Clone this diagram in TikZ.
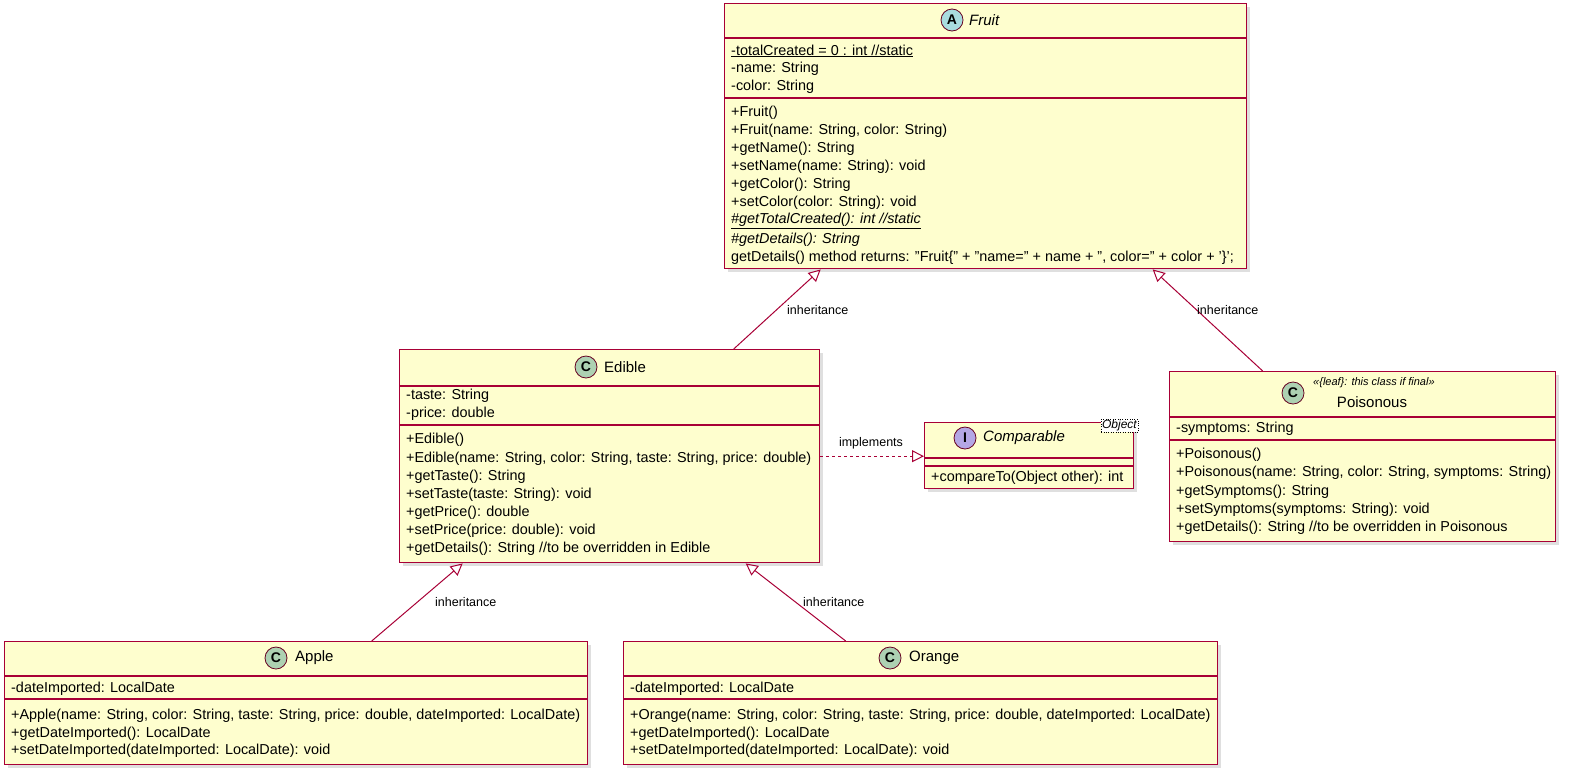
\documentclass[tikz,border=0pt]{standalone}
\usepackage{fontspec}
\setmainfont{Liberation Sans}
\usetikzlibrary{arrows.meta,shadows}
\definecolor{umlfill}{HTML}{FEFECE}
\definecolor{umlline}{HTML}{A80036}
\definecolor{circC}{HTML}{ADD1B2}
\definecolor{circA}{HTML}{A9DCDF}
\definecolor{circI}{HTML}{B4A7E5}
\newcommand{\dq}{\symbol{34}}
\newcommand{\sq}{\symbol{39}}
\tikzset{
  cls/.style={draw=umlline, line width=1.4pt, fill=umlfill, anchor=north west, inner sep=0,
    drop shadow={opacity=0.25, shadow xshift=3pt, shadow yshift=-3pt}},
  sep/.style={draw=umlline, line width=1.1pt},
  mem/.style={anchor=west, inner sep=0, font=\fontsize{14.4}{16}\selectfont},
  title/.style={inner sep=0, font=\fontsize{15}{17}\selectfont},
  circ/.style={circle, draw=umlline!60!black, line width=0.8pt, minimum size=22pt, inner sep=0, font=\bfseries\fontsize{14}{14}\selectfont},
  inh/.style={draw=umlline, line width=1pt, -{Triangle[open, length=12pt, width=12pt]}},
  impl/.style={inh, dashed},
  lbl/.style={inner sep=0, font=\fontsize{12.5}{14}\selectfont}
}
\begin{document}
\begin{tikzpicture}[x=1pt,y=-1pt]
\useasboundingbox (0,0) rectangle (1570,769);
% ---------- Fruit ----------
\node[cls, minimum width=522pt, minimum height=265pt] (fruit) at (724,3) {};
\draw[sep] (724,38) -- (1246,38);
\draw[sep] (724,98) -- (1246,98);
\node[circ, fill=circA] (fa) at (952,20) {A};
\node[title, anchor=west] (fn) at (969,20) {\itshape Fruit};
\node[mem] (f1) at (731,51) {\underline{-totalCreated = 0 : int //static}};
\node[mem] (f2) at (731,69) {-name: String};
\node[mem] (f3) at (731,87) {-color: String};
\node[mem] (f4) at (731,113) {+Fruit()};
\node[mem] (f5) at (731,131) {+Fruit(name: String, color: String)};
\node[mem] (f6) at (731,149) {+getName(): String};
\node[mem] (f7) at (731,167) {+setName(name: String): void};
\node[mem] (f8) at (731,185) {+getColor(): String};
\node[mem] (f9) at (731,203) {+setColor(color: String): void};
\node[mem] (f10) at (731,221) {\itshape\underline{\#getTotalCreated(): int //static}};
\node[mem] (f11) at (731,240) {\itshape \#getDetails(): String};
\node[mem] (f12) at (731,258) {getDetails() method returns: \dq Fruit\{\dq{} + \dq name=\dq{} + name + \dq, color=\dq{} + color + \sq\}\sq;};
% ---------- Edible ----------
\node[cls, minimum width=420pt, minimum height=213pt] (edible) at (399,349) {};
\draw[sep] (399,386) -- (819,386);
\draw[sep] (399,425) -- (819,425);
\node[circ, fill=circC] (ec) at (586,367) {C};
\node[title, anchor=west] (en) at (604,367) {Edible};
\node[mem] (e1) at (406,396) {-taste: String};
\node[mem] (e2) at (406,414) {-price: double};
\node[mem] (e3) at (406,440) {+Edible()};
\node[mem] (e4) at (406,459) {+Edible(name: String, color: String, taste: String, price: double)};
\node[mem] (e5) at (406,477) {+getTaste(): String};
\node[mem] (e6) at (406,495) {+setTaste(taste: String): void};
\node[mem] (e7) at (406,513) {+getPrice(): double};
\node[mem] (e8) at (406,531) {+setPrice(price: double): void};
\node[mem] (e9) at (406,549) {+getDetails(): String //to be overridden in Edible};
% ---------- Comparable ----------
\node[cls, minimum width=209pt, minimum height=66pt] (comp) at (924,422) {};
\draw[sep] (924,458) -- (1133,458);
\draw[sep] (924,466) -- (1133,466);
\node[circ, fill=circI] (ci) at (965,438) {I};
\node[title, anchor=west] (cn) at (983,438) {\itshape Comparable};
\node[draw=black, dotted, fill=white, inner sep=1pt, font=\itshape\fontsize{12}{13}\selectfont, anchor=north east] (cobj) at (1138,419) {Object};
\node[mem] (c1) at (931,478) {+compareTo(Object other): int};
% ---------- Poisonous ----------
\node[cls, minimum width=386pt, minimum height=170pt] (pois) at (1169,371) {};
\draw[sep] (1169,417) -- (1555,417);
\draw[sep] (1169,440) -- (1555,440);
\node[circ, fill=circC] (pc) at (1293,393) {C};
\node[lbl, anchor=west, font=\itshape\fontsize{11}{12}\selectfont] (ps) at (1313,383) {«\{leaf\}: this class if final»};
\node[title] (pn) at (1372,402) {Poisonous};
\node[mem] (p1) at (1176,429) {-symptoms: String};
\node[mem] (p2) at (1176,455) {+Poisonous()};
\node[mem] (p3) at (1176,473) {+Poisonous(name: String, color: String, symptoms: String)};
\node[mem] (p4) at (1176,492) {+getSymptoms(): String};
\node[mem] (p5) at (1176,510) {+setSymptoms(symptoms: String): void};
\node[mem] (p6) at (1176,528) {+getDetails(): String //to be overridden in Poisonous};
% ---------- Apple ----------
\node[cls, minimum width=583pt, minimum height=123pt] (apple) at (4,641) {};
\draw[sep] (4,676) -- (587,676);
\draw[sep] (4,699) -- (587,699);
\node[circ, fill=circC] (ac) at (276,658) {C};
\node[title, anchor=west] (an) at (295,658) {Apple};
\node[mem] (a1) at (11,689) {-dateImported: LocalDate};
\node[mem] (a2) at (11,716) {+Apple(name: String, color: String, taste: String, price: double, dateImported: LocalDate)};
\node[mem] (a3) at (11,734) {+getDateImported(): LocalDate};
\node[mem] (a4) at (11,751) {+setDateImported(dateImported: LocalDate): void};
% ---------- Orange ----------
\node[cls, minimum width=594pt, minimum height=123pt] (orange) at (623,641) {};
\draw[sep] (623,676) -- (1217,676);
\draw[sep] (623,699) -- (1217,699);
\node[circ, fill=circC] (oc) at (890,658) {C};
\node[title, anchor=west] (on) at (909,658) {Orange};
\node[mem] (o1) at (630,689) {-dateImported: LocalDate};
\node[mem] (o2) at (630,716) {+Orange(name: String, color: String, taste: String, price: double, dateImported: LocalDate)};
\node[mem] (o3) at (630,734) {+getDateImported(): LocalDate};
\node[mem] (o4) at (630,751) {+setDateImported(dateImported: LocalDate): void};
% ---------- Connectors ----------
\draw[inh] ([xshift=124pt]edible.north) -- ([xshift=-165pt]fruit.south);
\node[lbl, anchor=west] (l1) at (787,310) {inheritance};
\draw[inh] ([xshift=-100pt]pois.north) -- ([xshift=167pt]fruit.south);
\node[lbl, anchor=west] (l2) at (1197,310) {inheritance};
\draw[inh] ([xshift=75.5pt]apple.north) -- ([xshift=-147pt]edible.south);
\node[lbl, anchor=west] (l3) at (435,602) {inheritance};
\draw[inh] ([xshift=-75pt]orange.north) -- ([xshift=136pt]edible.south);
\node[lbl, anchor=west] (l4) at (803,602) {inheritance};
\draw[impl] (edible.east) -- (comp.west |- edible.east);
\node[lbl] (l5) at (871,443) {implements};
\end{tikzpicture}
\end{document}
